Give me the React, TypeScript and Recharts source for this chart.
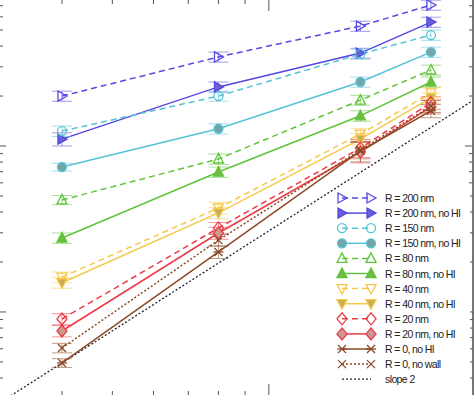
import { LineChart, Line, XAxis, YAxis, ErrorBar } from 'recharts';

// x positions of the four measurements (log axis)
const X_VALUES = [4, 8, 15, 20.5];

const R200 = [20.0, 34.4, 52.8, 70.7];
const R200_NOHI = [11.0, 22.7, 36.3, 55.8];
const R150 = [12.3, 20.0, 35.8, 46.6];
const R150_NOHI = [7.47, 12.7, 24.3, 36.8];
const R80 = [4.73, 8.35, 18.9, 28.7];
const R80_NOHI = [2.79, 6.97, 15.2, 24.3];
const R40 = [1.62, 4.23, 11.8, 20.9];
const R40_NOHI = [1.5, 3.95, 11.0, 19.5];
const R20 = [0.907, 3.21, 9.72, 18.2];
const R20_NOHI = [0.768, 2.99, 9.2, 17.2];
const R0_NOHI = [0.493, 2.3, 9.33, 16.3];
const R0_NOWALL = [0.607, 2.71, 9.47, 17.4];

const R200_ERR = [1.4, 2.4, 3.7, 4.9];
const R200_NOHI_ERR = [1.0, 1.6, 2.5, 3.9];
const R150_ERR = [0.9, 1.4, 2.5, 3.3];
const R150_NOHI_ERR = [0.4, 0.9, 1.7, 2.6];
const R80_ERR = [0.3, 0.6, 1.3, 2.0];
const R80_NOHI_ERR = [0.2, 0.5, 1.1, 1.7];
const R40_ERR = [0.12, 0.35, 0.9, 1.5];
const R40_NOHI_ERR = [0.11, 0.3, 0.9, 1.4];
const R20_ERR = [0.07, 0.25, 1.2, 1.6];
const R20_NOHI_ERR = [0.06, 0.25, 1.3, 1.6];
const R0_NOHI_ERR = [0.03, 0.2, 1.3, 1.5];
const R0_NOWALL_ERR = [0.04, 0.22, 1.1, 1.5];

// reference line with slope 2
const SLOPE_X = [3, 25];
const SLOPE_Y = [0.277, 19.26];

const X_MAJOR = [10];
const X_MINOR = [4, 5, 6, 7, 8, 9];
const Y_MAJOR = [1, 10];
const Y_MINOR = [0.4, 0.5, 0.6, 0.7, 0.8, 0.9, 2, 3, 4, 5, 6, 7, 8, 9, 20, 30, 40, 50, 60, 70];

const X_DOMAIN = [3.04, 24.7];
const Y_DOMAIN = [0.316, 75.8];

const BLUE = '#5548e0';
const CYAN = '#55c3d6';
const GREEN = '#60c43a';
const YELLOW = '#f6c84a';
const RED = '#ec3b47';
const BROWN = '#8b4a22';

const DASH = '6 4';
const DOT = '2 2';

const SERIES = [
  { key: 's0', name: 'R = 200 nm', values: R200, errors: R200_ERR, color: BLUE, dash: DASH, marker: 'triRight', fill: 'none' },
  { key: 's1', name: 'R = 200 nm, no HI', values: R200_NOHI, errors: R200_NOHI_ERR, color: BLUE, dash: undefined, marker: 'triRight', fill: '#6a5fd8' },
  { key: 's2', name: 'R = 150 nm', values: R150, errors: R150_ERR, color: CYAN, dash: DASH, marker: 'circle', fill: 'none' },
  { key: 's3', name: 'R = 150 nm, no HI', values: R150_NOHI, errors: R150_NOHI_ERR, color: CYAN, dash: undefined, marker: 'circle', fill: '#74a6a8' },
  { key: 's4', name: 'R = 80 nm', values: R80, errors: R80_ERR, color: GREEN, dash: DASH, marker: 'triUp', fill: 'none' },
  { key: 's5', name: 'R = 80 nm, no HI', values: R80_NOHI, errors: R80_NOHI_ERR, color: GREEN, dash: undefined, marker: 'triUp', fill: '#6cbd40' },
  { key: 's6', name: 'R = 40 nm', values: R40, errors: R40_ERR, color: YELLOW, dash: DASH, marker: 'triDown', fill: 'none' },
  { key: 's7', name: 'R = 40 nm, no HI', values: R40_NOHI, errors: R40_NOHI_ERR, color: YELLOW, dash: undefined, marker: 'triDown', fill: '#c9ad55' },
  { key: 's8', name: 'R = 20 nm', values: R20, errors: R20_ERR, color: RED, dash: DASH, marker: 'diamond', fill: 'none' },
  { key: 's9', name: 'R = 20 nm, no HI', values: R20_NOHI, errors: R20_NOHI_ERR, color: RED, dash: undefined, marker: 'diamond', fill: '#c99a92' },
  { key: 's10', name: 'R = 0, no HI', values: R0_NOHI, errors: R0_NOHI_ERR, color: BROWN, dash: undefined, marker: 'star', fill: 'none' },
  { key: 's11', name: 'R = 0, no wall', values: R0_NOWALL, errors: R0_NOWALL_ERR, color: BROWN, dash: DOT, marker: 'cross', fill: 'none' },
];

const rows = X_VALUES.map((x, i) => {
  const row: Record<string, number> = { x };
  SERIES.forEach((s) => {
    row[s.key] = s.values[i];
    row[s.key + 'Err'] = s.errors[i];
  });
  return row;
});

const slopeRows = SLOPE_X.map((x, i) => ({ x, slope: SLOPE_Y[i] }));

function Marker({ kind, cx, cy, color, fill }: any) {
  const sw = 1.3;
  switch (kind) {
    case 'triRight':
      return <polygon points={`${cx - 4},${cy - 5} ${cx - 4},${cy + 5} ${cx + 5},${cy}`} fill={fill} stroke={color} strokeWidth={sw} />;
    case 'circle':
      return <circle cx={cx} cy={cy} r={4.5} fill={fill} stroke={color} strokeWidth={sw} />;
    case 'triUp':
      return <polygon points={`${cx},${cy - 5.5} ${cx - 5},${cy + 4} ${cx + 5},${cy + 4}`} fill={fill} stroke={color} strokeWidth={sw} />;
    case 'triDown':
      return <polygon points={`${cx - 5},${cy - 4} ${cx + 5},${cy - 4} ${cx},${cy + 5.5}`} fill={fill} stroke={color} strokeWidth={sw} />;
    case 'diamond':
      return <polygon points={`${cx},${cy - 6} ${cx + 5},${cy} ${cx},${cy + 6} ${cx - 5},${cy}`} fill={fill} stroke={color} strokeWidth={sw} />;
    case 'star':
      return (
        <g stroke={color} strokeWidth={sw}>
          <line x1={cx - 4} y1={cy - 4} x2={cx + 4} y2={cy + 4} />
          <line x1={cx - 4} y1={cy + 4} x2={cx + 4} y2={cy - 4} />
          <line x1={cx - 5} y1={cy} x2={cx + 5} y2={cy} />
        </g>
      );
    case 'cross':
      return (
        <g stroke={color} strokeWidth={sw}>
          <line x1={cx - 4} y1={cy - 4} x2={cx + 4} y2={cy + 4} />
          <line x1={cx - 4} y1={cy + 4} x2={cx + 4} y2={cy - 4} />
        </g>
      );
    default:
      return <g />;
  }
}

const TICK_COLOR = '#555';

const xTick = (side: 'top' | 'bottom') => (p: any) => {
  const major = X_MAJOR.includes(p.payload.value);
  const len = major ? 11 : 4;
  const dir = side === 'top' ? 1 : -1;
  return <line x1={p.x} x2={p.x} y1={p.y} y2={p.y + dir * len} stroke={TICK_COLOR} strokeWidth={1} />;
};

const yTick = (side: 'left' | 'right') => (p: any) => {
  const major = Y_MAJOR.includes(p.payload.value);
  const len = side === 'left' ? (major ? 6 : 3) : (major ? 8 : 4);
  const dir = side === 'left' ? 1 : -1;
  return <line x1={p.x} x2={p.x + dir * len} y1={p.y} y2={p.y} stroke={TICK_COLOR} strokeWidth={1} />;
};

const LEGEND_FONT = '"Liberation Sans", Arial, sans-serif';

function LegendBox() {
  return (
    <div style={{ position: 'absolute', left: 336, top: 189, width: 134, height: 200, background: '#fff' }}>
      <svg width={134} height={200} style={{ fontFamily: LEGEND_FONT }}>
        {SERIES.map((s, i) => {
          const y = 9 + i * 15.1;
          return (
            <g key={s.key}>
              <line x1={6} x2={35} y1={y} y2={y} stroke={s.color} strokeWidth={1.5} strokeDasharray={s.dash} />
              <Marker kind={s.marker} cx={6} cy={y} color={s.color} fill={s.fill} />
              <Marker kind={s.marker} cx={35} cy={y} color={s.color} fill={s.fill} />
              <text x={49} y={y} dominantBaseline="central" fontSize={10.5} letterSpacing={-0.6} fill="#222">{s.name}</text>
            </g>
          );
        })}
        <line x1={6} x2={35} y1={9 + 12 * 15.1} y2={9 + 12 * 15.1} stroke="#223" strokeWidth={1.3} strokeDasharray={DOT} />
        <text x={49} y={9 + 12 * 15.1} dominantBaseline="central" fontSize={10.5} letterSpacing={-0.6} fill="#222">slope 2</text>
      </svg>
    </div>
  );
}

export default function App() {
  const axisCommon = {
    type: 'number' as const,
    scale: 'log' as const,
    allowDataOverflow: true,
    interval: 0,
    mirror: true,
    tickLine: false,
    tickSize: 0,
    tickMargin: 0,
  };
  return (
    <div style={{ position: 'absolute', left: 0, top: 0, width: 474, height: 395, background: '#fff' }}>
      <LineChart width={474} height={395} data={rows} margin={{ top: 0, right: 1, bottom: 0, left: 0 }}>
        <XAxis {...axisCommon} xAxisId="b" orientation="bottom" dataKey="x" domain={X_DOMAIN}
          ticks={[...X_MINOR, ...X_MAJOR]} height={12} axisLine={false} tick={xTick('bottom')} />
        <XAxis {...axisCommon} xAxisId="t" orientation="top" dataKey="x" domain={X_DOMAIN}
          ticks={[...X_MINOR, ...X_MAJOR]} height={12} axisLine={false} tick={xTick('top')} />
        <YAxis {...axisCommon} yAxisId="l" orientation="left" domain={Y_DOMAIN}
          ticks={[...Y_MINOR, ...Y_MAJOR]} width={10} axisLine={false} tick={yTick('left')} />
        <YAxis {...axisCommon} yAxisId="r" orientation="right" domain={Y_DOMAIN}
          ticks={[...Y_MINOR, ...Y_MAJOR]} width={10} axisLine={{ stroke: '#777', strokeWidth: 2 }} tick={yTick('right')} />
        <Line data={slopeRows} xAxisId="b" yAxisId="l" dataKey="slope" stroke="#223" strokeWidth={1.3}
          strokeDasharray={DOT} dot={false} activeDot={false} isAnimationActive={false} />
        {SERIES.map((s) => (
          <Line key={s.key} xAxisId="b" yAxisId="l" dataKey={s.key} name={s.name} stroke={s.color}
            strokeWidth={1.5} strokeDasharray={s.dash} isAnimationActive={false} activeDot={false}
            dot={(p: any) => (
              <Marker key={`${s.key}-${p.index}`} kind={s.marker} cx={p.cx} cy={p.cy} color={s.color} fill={s.fill} />
            )}>
            <ErrorBar dataKey={s.key + 'Err'} direction="y" width={10} stroke={s.color}
              strokeOpacity={0.55} strokeWidth={1} isAnimationActive={false} />
          </Line>
        ))}
      </LineChart>
      <LegendBox />
    </div>
  );
}
